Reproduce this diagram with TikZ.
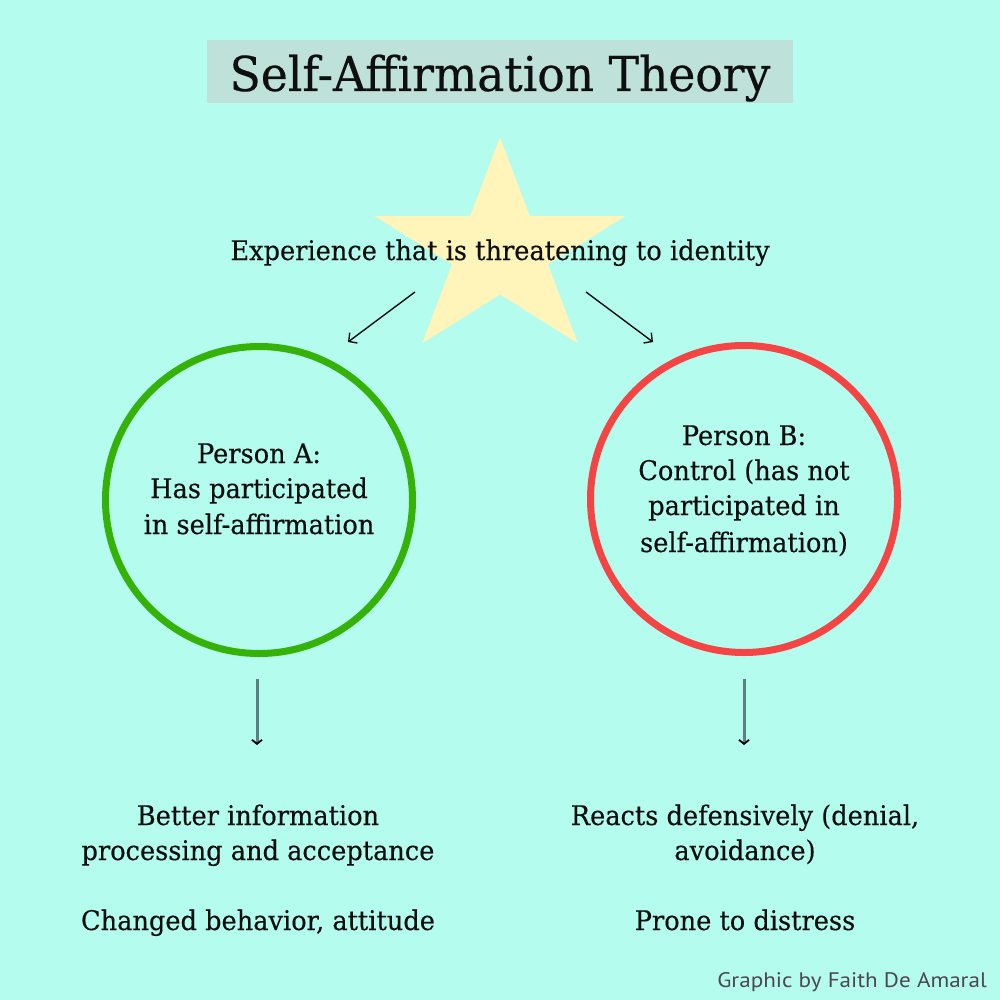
\documentclass[tikz,border=0pt]{standalone}
\usepackage{fontspec}
\setmainfont[FakeStretch=0.95,FakeBold=0.4]{DejaVu Serif}
\newfontfamily\creditfont[FakeStretch=1.1]{PT Sans}
\usetikzlibrary{arrows.meta}
\definecolor{bgcol}{RGB}{180,252,238}
\definecolor{titlecol}{RGB}{190,225,218}
\definecolor{starcol}{RGB}{255,244,186}
\definecolor{greencol}{RGB}{52,178,8}
\definecolor{redcol}{RGB}{244,68,68}
\definecolor{shaftcol}{RGB}{88,130,130}
\definecolor{txtcol}{RGB}{15,15,15}
\definecolor{creditcol}{RGB}{75,70,82}
\begin{document}
\begin{tikzpicture}[x=1pt,y=-1pt,
  body/.style={anchor=base,inner sep=0pt,text=txtcol,font=\fontsize{27}{33}\selectfont},
  ring/.style={circle,line width=7pt,minimum size=307pt,inner sep=0pt},
  diag/.style={line width=1.4pt,draw=txtcol,-{Straight Barb[length=6pt,width=13pt,line width=1.4pt]}},
  down/.style={line width=3pt,draw=shaftcol,-{Straight Barb[length=4pt,width=10pt,line width=1.8pt,color=black]}}]
\useasboundingbox (0,0) rectangle (1000,1000);
\fill[bgcol] (0,0) rectangle (1000,1000);
% title
\node[fill=titlecol,minimum width=586pt,minimum height=63pt,inner sep=0pt] (titlebox) at (500,71.5) {};
\node[anchor=base,inner sep=0pt,text=txtcol,font=\fontsize{48}{56}\selectfont] (title) at (500,91) {Self-Affirmation Theory};
% star
\fill[starcol] (500,137) -- (529.7,215.8) -- (625.8,215.8) -- (548,264.4) -- (577.7,343.2)
  -- (500,294.5) -- (422.3,343.2) -- (452,264.4) -- (374.2,215.8) -- (470.3,215.8) -- cycle;
\node[body] (exp) at (500,260) {Experience that is threatening to identity};
% circles
\node[ring,draw=greencol] (A) at (259,500) {};
\node[ring,draw=redcol] (B) at (744,499) {};
\node[body] (a1) at (259,463) {Person A:};
\node[body] (a2) at (259,498) {Has participated};
\node[body] (a3) at (259,534) {in self-affirmation};
\node[body] (b1) at (744,445) {Person B:};
\node[body] (b2) at (744,480) {Control (has not};
\node[body] (b3) at (744,515) {participated in};
\node[body] (b4) at (744,552) {self-affirmation)};
% diagonal arrows
\coordinate (dl1) at (415,292);
\coordinate (dl2) at (348,342);
\coordinate (dr1) at (586,292);
\coordinate (dr2) at (653,342);
\draw[diag] (dl1) -- (dl2);
\draw[diag] (dr1) -- (dr2);
% down arrows
\coordinate (al1) at (257,679);
\coordinate (al2) at (257,745);
\coordinate (ar1) at (744,679);
\coordinate (ar2) at (744,745);
\draw[down] (al1) -- (al2);
\draw[down] (ar1) -- (ar2);
% outcomes
\node[body] (l1) at (258,825) {Better information};
\node[body] (l2) at (258,860) {processing and acceptance};
\node[body] (l3) at (258,930) {Changed behavior, attitude};
\node[body] (r1) at (745,825) {Reacts defensively (denial,};
\node[body] (r2) at (745,860) {avoidance)};
\node[body] (r3) at (745,930) {Prone to distress};
% credit
\node[anchor=base east,inner sep=0pt,text=creditcol,font=\creditfont\fontsize{21}{25}\selectfont] (credit) at (987,987) {Graphic by Faith De Amaral};
\end{tikzpicture}
\end{document}
